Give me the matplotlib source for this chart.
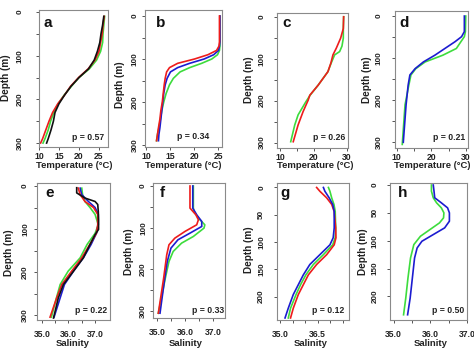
import matplotlib
matplotlib.use("Agg")
import matplotlib.pyplot as plt
from matplotlib import font_manager

W, H = 474, 349
names = {f.name for f in font_manager.fontManager.ttflist}
BASE = 'Liberation Sans' if 'Liberation Sans' in names else 'DejaVu Sans'
NARROW = 'Liberation Sans Narrow' if 'Liberation Sans Narrow' in names else BASE
plt.rcParams['font.family'] = [BASE, 'DejaVu Sans']
plt.rcParams['font.weight'] = 'bold'

RED, GREEN, BLUE, BLACK = '#ee1c1c', '#3ddc3d', '#1c1cd0', '#111111'

# ---------------- data ----------------
# panel a (temperature)
a_depth = [10, 30, 50, 70, 90, 110, 130, 150, 170, 190, 210, 230, 250, 270, 290, 300]
a_green = [26.4, 26.2, 26.0, 25.9, 25.4, 24.4, 22.6, 20.0, 18.1, 16.3, 14.8, 13.7, 12.9, 12.3, 11.5, 11.0]
a_red = [26.3, 26.0, 25.8, 25.4, 25.0, 24.0, 22.3, 19.9, 17.9, 16.4, 14.7, 13.4, 12.5, 11.7, 10.9, 10.4]
a_black = [26.2, 25.9, 25.5, 25.2, 24.6, 23.8, 22.4, 20.0, 18.0, 16.4, 15.0, 14.0, 13.6, 13.0, 12.3, 11.9]

# panel b (temperature)
b_depth = [0, 20, 40, 60, 70, 80, 90, 100, 110, 120, 130, 145, 160, 180, 200, 220, 240, 260, 275, 290]
b_green = [25.3, 25.3, 25.3, 25.3, 25.3, 25.2, 24.8, 23.6, 21.5, 19.0, 17.0, 15.6, 14.8, 14.1, 13.6, 13.2, 12.9, 12.6, 12.3, 12.1]
b_blue = [25.3, 25.3, 25.3, 25.3, 25.2, 25.0, 24.0, 22.0, 19.0, 16.5, 15.0, 14.3, 13.9, 13.6, 13.4, 13.2, 13.0, 12.8, 12.6, 12.5]
b_red = [25.2, 25.2, 25.2, 25.2, 25.1, 24.6, 22.8, 20.0, 16.5, 14.8, 14.2, 13.9, 13.7, 13.5, 13.3, 13.0, 12.8, 12.5, 12.3, 12.1]

# panel c (temperature)
c_green_depth = [0, 28, 51, 70, 83, 91, 110, 131, 163, 187, 203, 234, 258, 298]
c_green = [29.0, 28.9, 28.9, 28.5, 27.8, 26.3, 25.3, 24.3, 21.4, 19.0, 17.7, 15.4, 14.4, 13.2]
c_red_depth = [0, 28, 51, 75, 91, 110, 131, 163, 187, 199, 226, 258, 298]
c_red = [29.0, 28.9, 28.1, 26.8, 25.8, 25.2, 24.3, 21.4, 18.9, 18.4, 16.9, 15.4, 13.95]

# panel d (temperature)
d_green_depth = [0, 37, 49, 61, 77, 93, 109, 125, 140, 164, 211, 305]
d_green = [29.9, 29.8, 29.5, 28.5, 27.2, 23.3, 18.2, 15.5, 14.1, 13.5, 12.4, 11.6]
d_blue_depth = [0, 37, 49, 61, 77, 93, 109, 125, 140, 164, 211, 300]
d_blue = [29.5, 29.5, 28.7, 26.8, 23.9, 21.0, 17.7, 15.3, 13.8, 13.3, 12.7, 11.9]

# panel e (salinity)
e_black_depth = [4, 16, 28, 36, 43, 59, 80, 101, 113, 136, 167, 198, 229, 260, 307]
e_black = [36.31, 36.31, 36.62, 37.0, 37.1, 37.12, 37.13, 37.13, 37.0, 36.81, 36.56, 36.19, 35.81, 35.62, 35.44]
e_depth = [5, 20, 36, 50, 66, 90, 110, 136, 167, 198, 229, 260, 305]
e_green = [36.5, 36.53, 36.62, 36.81, 37.0, 37.12, 37.0, 36.7, 36.44, 35.99, 35.69, 35.55, 35.36]
e_blue = [36.44, 36.5, 36.75, 37.0, 37.12, 37.12, 37.05, 36.85, 36.56, 36.19, 35.85, 35.69, 35.46]
e_red = [36.37, 36.44, 36.62, 36.94, 37.1, 37.1, 37.05, 36.8, 36.5, 36.12, 35.75, 35.56, 35.31]

# panel f (salinity)
f_green_depth = [0, 53, 60, 77, 93, 101, 121, 137, 157, 181, 221, 305]
f_green = [36.3, 36.3, 36.32, 36.48, 36.71, 36.68, 36.3, 35.88, 35.58, 35.43, 35.3, 35.05]
f_blue_depth = [0, 53, 69, 85, 97, 113, 129, 149, 181, 221, 305]
f_blue = [36.28, 36.28, 36.42, 36.6, 36.6, 36.18, 35.75, 35.5, 35.37, 35.28, 35.11]
f_red_depth = [0, 53, 69, 81, 93, 109, 125, 141, 165, 221, 305]
f_red = [36.18, 36.18, 36.39, 36.48, 36.42, 36.0, 35.64, 35.43, 35.35, 35.24, 35.05]

# panel g (salinity)
g_depth = [0, 7, 19, 31, 44, 74, 92, 105, 123, 141, 160, 178, 196, 221, 239]
g_green = [36.93, 36.99, 37.06, 37.15, 37.20, 37.22, 37.20, 37.10, 36.73, 36.33, 36.03, 35.82, 35.64, 35.42, 35.33]
g_red = [36.46, 36.59, 36.86, 37.06, 37.16, 37.22, 37.23, 37.16, 36.86, 36.46, 36.13, 35.93, 35.73, 35.53, 35.42]
g_blue = [36.73, 36.79, 36.96, 37.10, 37.16, 37.16, 37.12, 36.99, 36.59, 36.19, 35.93, 35.73, 35.53, 35.33, 35.20]

# panel h (salinity)
h_green_depth = [0, 11, 23, 32, 41, 50, 59, 68, 80, 92, 107, 131, 167, 203, 233]
h_green = [36.03, 36.03, 36.08, 36.17, 36.30, 36.37, 36.36, 36.25, 35.99, 35.73, 35.55, 35.46, 35.39, 35.33, 35.27]
h_blue_depth = [0, 11, 23, 32, 41, 50, 65, 77, 89, 101, 113, 131, 167, 203, 233]
h_blue = [36.08, 36.10, 36.12, 36.30, 36.47, 36.52, 36.52, 36.39, 36.08, 35.77, 35.64, 35.57, 35.51, 35.45, 35.38]

letters = ['a', 'b', 'c', 'd', 'e', 'f', 'g', 'h']
p_values = ['p = 0.57', 'p = 0.34', 'p = 0.26', 'p = 0.21', 'p = 0.22', 'p = 0.33', 'p = 0.12', 'p = 0.50']

# ---------------- layout ----------------
fig = plt.figure(figsize=(W / 100, H / 100), dpi=100)


def rect(l, t, r, b):
    return [l / W, 1 - b / H, (r - l) / W, (b - t) / H]


def fx(x):
    return x / W


def fy(y):
    return 1 - y / H


panels = [
    dict(box=(39, 10, 108, 147), xlim=(10.0, 27.25), ylim=(309, -4.6),
         xt=[10, 15, 20, 25], xl=['10', '15', '20', '25'],
         yt=[0, 50, 100, 150, 200, 250, 300], yl=['0', '', '100', '', '200', '', '300'],
         series=[(a_green, a_depth, GREEN), (a_red, a_depth, RED), (a_black, a_depth, BLACK)],
         xlab='Temperature (°C)', xlab_pos=(74, 166), ylab_pos=(6, 78), ypad=8.5,
         let_pos=(43, 27), p_pos=(104, 140)),
    dict(box=(145, 10, 222, 147), xlim=(9.7, 25.73), ylim=(304.6, -14),
         xt=[10, 15, 20, 25], xl=['10', '15', '20', '25'],
         yt=[0, 50, 100, 150, 200, 250, 300], yl=['0', '', '100', '', '200', '', '300'],
         series=[(b_green, b_depth, GREEN), (b_blue, b_depth, BLUE), (b_red, b_depth, RED)],
         xlab='Temperature (°C)', xlab_pos=(183, 166), ylab_pos=(120, 85), ypad=2.0,
         let_pos=(156, 27), p_pos=(209, 139)),
    dict(box=(277, 13, 348, 148), xlim=(9.1, 30.3), ylim=(313, -9),
         xt=[10, 15, 20, 25, 30], xl=['10', '', '20', '', '30'],
         yt=[0, 50, 100, 150, 200, 250, 300], yl=['0', '', '100', '', '200', '', '300'],
         series=[(c_green, c_green_depth, GREEN), (c_red, c_red_depth, RED)],
         xlab='Temperature (°C)', xlab_pos=(315, 166), ylab_pos=(249, 80), ypad=5.5,
         let_pos=(282, 27), p_pos=(345, 140)),
    dict(box=(395, 11, 468, 148), xlim=(9.51, 30.55), ylim=(313.5, -12),
         xt=[10, 15, 20, 25, 30], xl=['10', '', '20', '', '30'],
         yt=[0, 50, 100, 150, 200, 250, 300], yl=['0', '', '100', '', '200', '', '300'],
         series=[(d_green, d_green_depth, GREEN), (d_blue, d_blue_depth, BLUE)],
         xlab='Temperature (°C)', xlab_pos=(432, 166), ylab_pos=(367, 80), ypad=6.5,
         let_pos=(399, 27), p_pos=(465, 140)),
    dict(box=(37, 183, 110, 320), xlim=(34.82, 37.56), ylim=(311.6, -7),
         xt=[35.0, 35.5, 36.0, 36.5, 37.0], xl=['35.0', '', '36.0', '', '37.0'],
         yt=[0, 50, 100, 150, 200, 250, 300], yl=['0', '', '100', '', '200', '', '300'],
         series=[(e_green, e_depth, GREEN), (e_blue, e_depth, BLUE), (e_red, e_depth, RED),
                 (e_black, e_black_depth, BLACK)],
         xlab='Salinity', xlab_pos=(73, 344), ylab_pos=(9, 253), ypad=3.2,
         let_pos=(45, 197), p_pos=(107, 313)),
    dict(box=(153, 183, 225, 318), xlim=(34.86, 37.43), ylim=(316.5, -7.2),
         xt=[35.0, 35.5, 36.0, 36.5, 37.0], xl=['35.0', '', '36.0', '', '37.0'],
         yt=[0, 50, 100, 150, 200, 250, 300], yl=['0', '', '100', '', '200', '', '300'],
         series=[(f_green, f_green_depth, GREEN), (f_blue, f_blue_depth, BLUE),
                 (f_red, f_red_depth, RED)],
         xlab='Salinity', xlab_pos=(186, 344), ylab_pos=(129, 252), ypad=1.8,
         let_pos=(160, 197), p_pos=(224, 313)),
    dict(box=(277, 183, 349, 320), xlim=(34.88, 37.75), ylim=(242.7, -8.2),
         xt=[35.0, 35.5, 36.0, 36.5, 37.0, 37.5], xl=['35.0', '', '', '36.5', '', ''],
         yt=[0, 50, 100, 150, 200], yl=['0', '50', '100', '150', '200'],
         series=[(g_green, g_depth, GREEN), (g_red, g_depth, RED), (g_blue, g_depth, BLUE)],
         xlab='Salinity', xlab_pos=(311, 343), ylab_pos=(249, 250), ypad=6.0,
         let_pos=(280, 197), p_pos=(344, 313)),
    dict(box=(390, 183, 467, 320), xlim=(34.9, 37.0), ylim=(242.4, -3.6),
         xt=[35.0, 35.5, 36.0, 36.5, 37.0], xl=['35.0', '', '36.0', '', '37.0'],
         yt=[0, 50, 100, 150, 200], yl=['0', '50', '100', '150', '200'],
         series=[(h_green, h_green_depth, GREEN), (h_blue, h_blue_depth, BLUE)],
         xlab='Salinity', xlab_pos=(431, 343), ylab_pos=(363, 252), ypad=5.5,
         let_pos=(398, 197), p_pos=(464, 313)),
]

for i, P in enumerate(panels):
    ax = fig.add_axes(rect(*P['box']))
    for vals, dep, col in P['series']:
        ax.plot(vals, dep, color=col, lw=1.2, solid_joinstyle='round')
    ax.set_xlim(*P['xlim'])
    ax.set_ylim(*P['ylim'])
    ax.set_xticks(P['xt'])
    ax.set_xticklabels(P['xl'])
    ax.set_yticks(P['yt'])
    ax.set_yticklabels(P['yl'], rotation=90, va='center')
    for sp in ax.spines.values():
        sp.set_color('#8a8a8a')
        sp.set_linewidth(0.8)
    xpad = 1.0 if i < 4 else 5.0
    ax.tick_params(axis='x', length=2.5, width=0.7, color='#555555', pad=xpad,
                   labelsize=6.2, labelcolor='#222222')
    ax.tick_params(axis='y', length=2.5, width=0.7, color='#555555', pad=P['ypad'],
                   labelsize=5.8, labelcolor='#222222')
    xlabs = ax.get_xticklabels()
    for lab in xlabs:
        lab.set_fontweight('bold')
        lab.set_family([NARROW, 'DejaVu Sans'])
    for lab in ax.get_yticklabels():
        lab.set_fontweight('bold')
    fig.text(fx(P['xlab_pos'][0]), fy(P['xlab_pos'][1]), P['xlab'], ha='center', va='center',
             fontsize=6.8, fontweight='bold', color='#222222', family=[BASE, 'DejaVu Sans'])
    fig.text(fx(P['ylab_pos'][0]), fy(P['ylab_pos'][1]), 'Depth (m)', ha='center', va='center',
             rotation=90, fontsize=7.2, fontweight='bold', color='#222222')
    fig.text(fx(P['let_pos'][0]), fy(P['let_pos'][1]), letters[i], ha='left', va='baseline',
             fontsize=11, fontweight='bold', color='#111111')
    fig.text(fx(P['p_pos'][0]), fy(P['p_pos'][1]), p_values[i], ha='right', va='baseline',
             fontsize=6.2, fontweight='bold', color='#222222')

fig.savefig('out.png', dpi=100)
